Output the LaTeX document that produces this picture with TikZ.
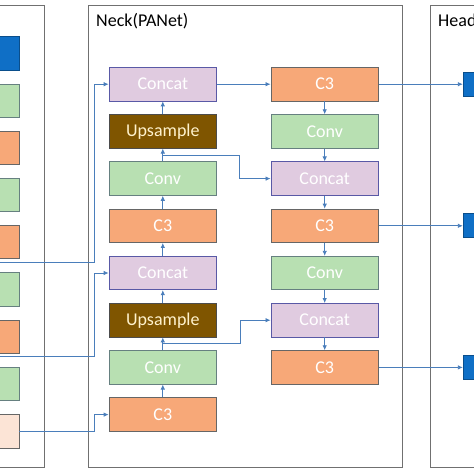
\documentclass[tikz,border=0pt]{standalone}
\usepackage{fontspec}
\setmainfont{Carlito}
\usetikzlibrary{positioning,arrows.meta,calc}
\definecolor{linkblue}{HTML}{4A7EBB}
\definecolor{panelgray}{HTML}{707070}
\definecolor{concatfill}{HTML}{E0CBE0}
\definecolor{convfill}{HTML}{B8E0B2}
\definecolor{cthreefill}{HTML}{F7A878}
\definecolor{upfill}{HTML}{7F5500}
\definecolor{uptext}{HTML}{FFF2CC}
\definecolor{headfill}{HTML}{0F6FC6}
\definecolor{peachfill}{HTML}{FCE4D6}
\tikzstyle{arrow} = [line width=0.8pt,draw=linkblue,-{Latex[length=5pt,width=4.5pt]}]
\tikzstyle{panel} = [line width=1pt,draw=panelgray]
\tikzstyle{block} = [draw=gray!80!black,line width=0.8pt,minimum width=107.5pt,minimum height=33.5pt,inner sep=0pt,text=white,font=\fontsize{18}{20}\selectfont]
\tikzstyle{concatbox} = [block,fill=concatfill,draw=gray!70!blue]
\tikzstyle{convbox} = [block,fill=convfill,draw=gray!80!teal]
\tikzstyle{cthreebox} = [block,fill=cthreefill]
\tikzstyle{upbox} = [block,fill=upfill,text=uptext,draw=gray!60!black]
\tikzstyle{peachbox} = [block,fill=peachfill]
\tikzstyle{headbox} = [block,fill=headfill,draw=headfill!70!black,minimum width=30pt,minimum height=24pt]

\begin{document}
\begin{tikzpicture}[x=1pt,y=-1pt,node distance=12.9pt]
    \useasboundingbox (0,0) rectangle (474,474);

    % panels
    \draw [panel] (-150,5) rectangle (44.7,467.7);
    \draw [panel] (88.3,5) rectangle (402.3,467.7);
    \draw [panel] (430.3,5) rectangle (620,467.7);
    \node (neck-label) [anchor=base west,inner sep=0pt,font=\fontsize{18}{20}\selectfont] at (96,26.5) {Neck(PANet)};
    \node (head-label) [anchor=base west,inner sep=0pt,font=\fontsize{18}{20}\selectfont] at (438,26.5) {Head};

    % backbone (cut off at the left)
    \foreach \y/\s [count=\i] in {53.5/headbox,101/convbox,148/cthreebox,195/convbox,242/cthreebox,289.5/convbox,337/cthreebox,384/convbox,431.5/peachbox}
        \node (bb-\i) [\s,minimum width=107.5pt,minimum height=33.5pt] at (-34.75,\y) {};

    % neck, top-down column
    \node (fpn-concat-1) [concatbox] at (162.8,84.2) {Concat};
    \node (fpn-up-1) [upbox, below=of fpn-concat-1] {Upsample};
    \node (fpn-conv-1) [convbox, below=of fpn-up-1] {Conv};
    \node (fpn-c3-1) [cthreebox, below=of fpn-conv-1] {C3};
    \node (fpn-concat-2) [concatbox, below=of fpn-c3-1] {Concat};
    \node (fpn-up-2) [upbox, below=of fpn-concat-2] {Upsample};
    \node (fpn-conv-2) [convbox, below=of fpn-up-2] {Conv};
    \node (fpn-c3-2) [cthreebox, below=of fpn-conv-2] {C3};

    \draw [arrow] (fpn-c3-2) -- (fpn-conv-2);
    \draw [arrow] (fpn-conv-2) -- (fpn-up-2);
    \draw [arrow] (fpn-up-2) -- (fpn-concat-2);
    \draw [arrow] (fpn-concat-2) -- (fpn-c3-1);
    \draw [arrow] (fpn-c3-1) -- (fpn-conv-1);
    \draw [arrow] (fpn-conv-1) -- (fpn-up-1);
    \draw [arrow] (fpn-up-1) -- (fpn-concat-1);

    % neck, bottom-up column
    \node (pan-c3-1) [cthreebox] at (324.7,84.2) {C3};
    \node (pan-conv-1) [convbox, below=of pan-c3-1] {Conv};
    \node (pan-concat-1) [concatbox, below=of pan-conv-1] {Concat};
    \node (pan-c3-2) [cthreebox, below=of pan-concat-1] {C3};
    \node (pan-conv-2) [convbox, below=of pan-c3-2] {Conv};
    \node (pan-concat-2) [concatbox, below=of pan-conv-2] {Concat};
    \node (pan-c3-3) [cthreebox, below=of pan-concat-2] {C3};

    \draw [arrow] (pan-c3-1) -- (pan-conv-1);
    \draw [arrow] (pan-conv-1) -- (pan-concat-1);
    \draw [arrow] (pan-concat-1) -- (pan-c3-2);
    \draw [arrow] (pan-c3-2) -- (pan-conv-2);
    \draw [arrow] (pan-conv-2) -- (pan-concat-2);
    \draw [arrow] (pan-concat-2) -- (pan-c3-3);

    % head
    \node (head-1) [headbox, right=84pt of pan-c3-1] {};
    \node (head-2) [headbox, right=84pt of pan-c3-2] {};
    \node (head-3) [headbox, right=84pt of pan-c3-3] {};

    % links
    \coordinate (bb-out-1) at (-40,262);
    \coordinate (bb-out-2) at (-40,356.3);
    \draw [arrow] (bb-out-1) -- (94.3,262) |- (fpn-concat-1);
    \draw [arrow] (bb-out-2) -- (94.3,356.3) |- (fpn-concat-2);
    \draw [arrow] (bb-9.east) -- (94.3,431.5) |- (fpn-c3-2);

    \coordinate (tap-1) at ($(fpn-conv-1.north)!0.5!(fpn-up-1.south)$);
    \coordinate (tap-2) at ($(fpn-conv-2.north)!0.5!(fpn-up-2.south)$);
    \draw [arrow] (tap-1) -- ++(77,0) |- (pan-concat-1);
    \draw [arrow] (tap-2) -- ++(77.5,0) |- (pan-concat-2);

    \draw [arrow] (fpn-concat-1) -- (pan-c3-1);
    \draw [arrow] (pan-c3-1) -- (head-1);
    \draw [arrow] (pan-c3-2) -- (head-2);
    \draw [arrow] (pan-c3-3) -- (head-3);

  \end{tikzpicture}
\end{document}
